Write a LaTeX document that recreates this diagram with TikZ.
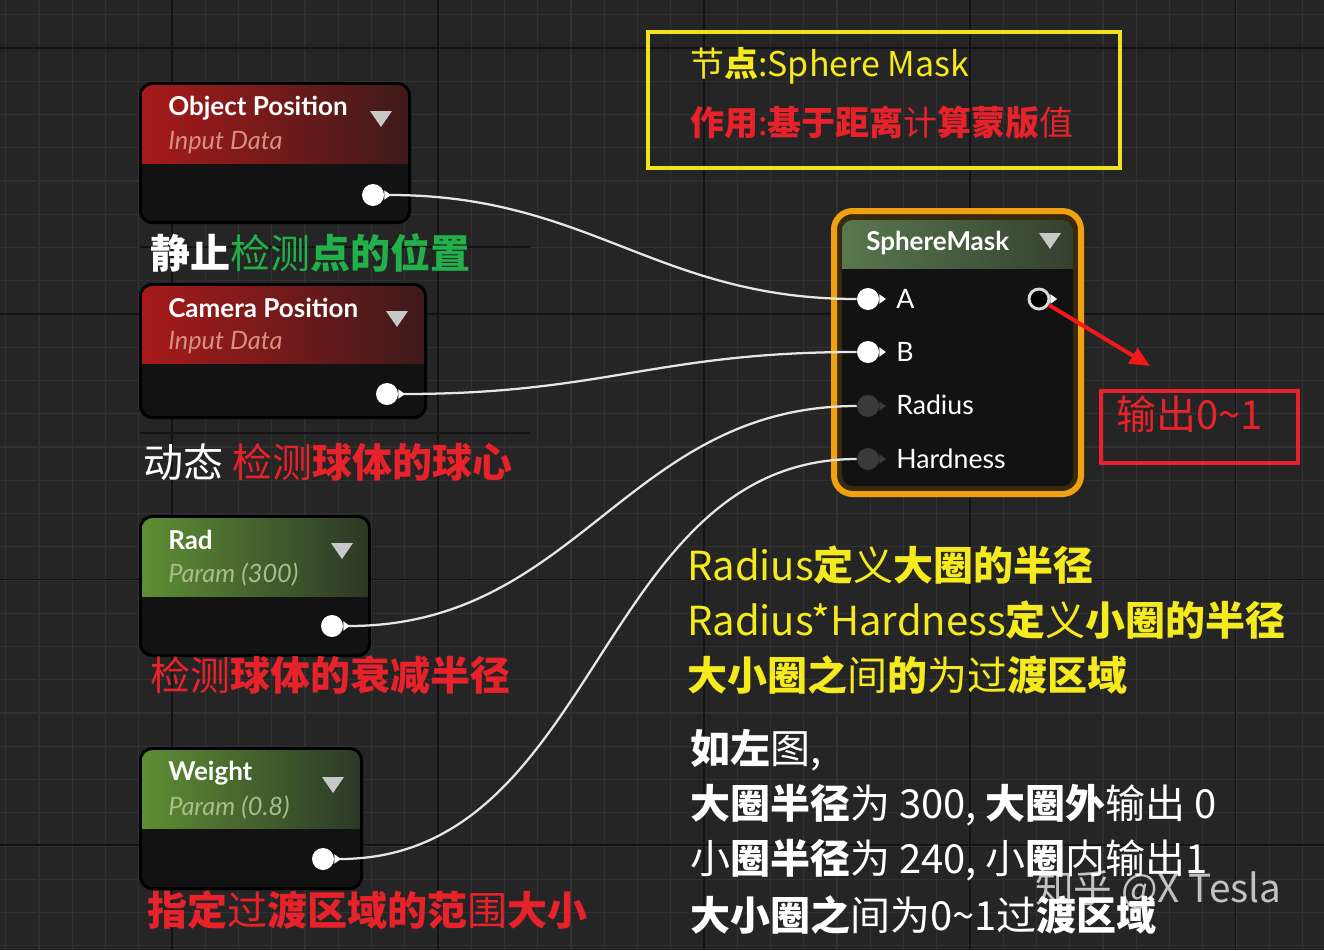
\documentclass[tikz,border=0pt]{standalone}
\usepackage{fontspec}
\setmainfont{Noto Sans}
\newfontfamily\cjk{Noto Sans CJK SC}
\newfontfamily\uef{Lato}
\usetikzlibrary{arrows.meta}
\definecolor{bgc}{HTML}{252525}
\definecolor{minorc}{HTML}{313131}
\definecolor{majorc}{HTML}{131313}
\definecolor{bodyc}{HTML}{121212}
\definecolor{redL}{HTML}{A81A1A}
\definecolor{redR}{HTML}{3E1A1A}
\definecolor{grnL}{HTML}{5E8E34}
\definecolor{grnR}{HTML}{2C3826}
\definecolor{smL}{HTML}{58784E}
\definecolor{smR}{HTML}{34402F}
\definecolor{subred}{HTML}{D8907E}
\definecolor{subgrn}{HTML}{A6BE8C}
\definecolor{tric}{HTML}{C8C8C8}
\definecolor{pingray}{HTML}{3A3A3A}
\definecolor{wirec}{HTML}{E6E6E6}
\definecolor{orng}{HTML}{F0A010}
\definecolor{orngdark}{HTML}{3A2A0C}
\definecolor{txtred}{HTML}{E8222A}
\definecolor{txtgrn}{HTML}{22B04A}
\definecolor{txtyel}{HTML}{F5EA1E}
\definecolor{boxyel}{HTML}{F0E31C}
\definecolor{arrred}{HTML}{F01818}
\newcommand\bd[1]{{\bfseries #1}}
\newcommand\pintip[2]{\fill[#2] ([yshift=3.6pt]#1.east) -- ([xshift=5pt]#1.east) -- ([yshift=-3.6pt]#1.east) -- cycle;}
\newcommand\uebox[7]{%
  \fill[black,rounded corners=10] (#1-3,#2-3) rectangle (#3+3,#4+3);
  \fill[bodyc,rounded corners=8] (#1,#2) rectangle (#3,#4);
  \begin{scope}
    \clip[rounded corners=8] (#1,#2) rectangle (#3,#4);
    \shade[left color=#6,right color=#7] (#1,#2) rectangle (#3,#5);
  \end{scope}}
\begin{document}
\begin{tikzpicture}[x=0.75pt,y=-0.75pt,
  lbl/.style={anchor=west,inner sep=0pt,font=\cjk\fontsize{30pt}{36pt}\selectfont},
  ttl/.style={anchor=west,inner sep=0pt,text=white,font=\uef\bfseries\fontsize{19.5pt}{22pt}\selectfont},
  sub/.style={anchor=west,inner sep=0pt,font=\uef\itshape\fontsize{19pt}{22pt}\selectfont},
  pinlbl/.style={anchor=west,inner sep=0pt,text=white,font=\uef\fontsize{20pt}{23pt}\selectfont},
  pinw/.style={circle,fill=white,minimum size=16.5pt,inner sep=0pt},
  ping/.style={circle,fill=pingray,minimum size=16.5pt,inner sep=0pt},
  wire/.style={draw=wirec,line width=1.7pt},
  tri/.style={fill=tric},
  minorgrid/.style={draw=minorc,line width=0.8pt},
  majorgrid/.style={draw=majorc,line width=1.2pt}]
\useasboundingbox (0,0) rectangle (1324,950);
\fill[bgc] (0,0) rectangle (1324,950);
% grid
\foreach \i in {0,...,39} \draw[minorgrid] ({5.75+33.25*\i},0) -- ++(0,950);
\foreach \j in {0,...,28} \draw[minorgrid] (0,{14.75+33.25*\j}) -- ++(1324,0);
\foreach \i in {0,...,4} \draw[majorgrid] ({172+265.9*\i},0) -- ++(0,950);
\foreach \j in {0,...,3} \draw[majorgrid] (0,{48+265.7*\j}) -- ++(1324,0);
\draw[majorc,line width=1.2pt] (140,247) -- (530,247);
\draw[majorc,line width=1.2pt] (140,433) -- (530,433);

% ---- Object Position
\uebox{142}{85}{408}{221}{163}{redL}{redR}
\node[ttl] (t1) at (168,108) {Object Position};
\node[sub,text=subred] (s1) at (168,143) {Input Data};
\fill[tri] (370,111) -- (392,111) -- (381,127) -- cycle;
\node[pinw] (op) at (373,195) {};
\pintip{op}{white}

% ---- Camera Position
\uebox{142}{286}{424}{416}{363}{redL}{redR}
\node[ttl] (t2) at (168,308) {Camera Position};
\node[sub,text=subred] (s2) at (168,343) {Input Data};
\fill[tri] (386,311) -- (408,311) -- (397,327) -- cycle;
\node[pinw] (cp) at (387,394) {};
\pintip{cp}{white}

% ---- Rad
\uebox{142}{518}{368}{654}{596}{grnL}{grnR}
\node[ttl] (t3) at (168,540) {Rad};
\node[sub,text=subgrn] (s3) at (168,575) {Param (300)};
\fill[tri] (331,543) -- (353,543) -- (342,559) -- cycle;
\node[pinw] (rp) at (332,626) {};
\pintip{rp}{white}

% ---- Weight
\uebox{142}{750}{360}{887}{828}{grnL}{grnR}
\node[ttl] (t4) at (168,773) {Weight};
\node[sub,text=subgrn] (s4) at (168,808) {Param (0.8)};
\fill[tri] (322,777) -- (344,777) -- (333,793) -- cycle;
\node[pinw] (wp) at (323,859) {};
\pintip{wp}{white}

% ---- SphereMask
\fill[orngdark,rounded corners=14] (834,211) rectangle (1081,494);
\draw[orng,line width=4.5pt,rounded corners=14] (834,211) rectangle (1081,494);
\fill[bodyc,rounded corners=8] (842,220) rectangle (1073,486);
\begin{scope}
  \clip[rounded corners=8] (842,220) rectangle (1073,486);
  \shade[left color=smL,right color=smR] (842,220) rectangle (1073,268);
\end{scope}
\node[ttl] (t5) at (866,243) {SphereMask};
\fill[tri] (1039,233) -- (1061,233) -- (1050,249) -- cycle;
\node[pinw] (pa) at (868,299) {};
\pintip{pa}{white}
\node[pinw] (pb) at (868,352) {};
\pintip{pb}{white}
\node[ping] (pr) at (868,406) {};
\pintip{pr}{pingray}
\node[ping] (ph) at (868,459) {};
\pintip{ph}{pingray}
\node[pinlbl] (la) at (896,299) {A};
\node[pinlbl] (lb) at (896,352) {B};
\node[pinlbl] (lr) at (896,405) {Radius};
\node[pinlbl] (lh) at (896,459) {Hardness};
\node[circle,draw=white!85!black,line width=2.2pt,fill=black,minimum size=15pt,inner sep=0pt] (sout) at (1039,299) {};
\pintip{sout}{white}

% ---- wires
\draw[wire] ([xshift=4pt]op.east) .. controls +(200,0) and +(-200,0) .. (pa.west);
\draw[wire] ([xshift=4pt]cp.east) .. controls +(200,0) and +(-200,0) .. (pb.west);
\draw[wire] ([xshift=4pt]rp.east) .. controls +(230,0) and +(-230,0) .. (pr.west);
\draw[wire] ([xshift=4pt]wp.east) .. controls +(260,0) and +(-260,0) .. (ph.west);

% ---- output annotation
\coordinate (arrtip) at (1150,366);
\draw[arrred,line width=3pt,-{Triangle[length=15pt,width=13pt]}] (sout) -- (arrtip);
\draw[txtred,line width=2.3pt] (1101,391) rectangle (1298,463);
\node[lbl,text=txtred] (outtxt) at (1116,414) {输出0\textasciitilde1};

% ---- title box
\draw[boxyel,line width=2.3pt] (648,32) rectangle (1120,168);
\node[anchor=west,inner sep=0pt,text=txtyel,font=\cjk\fontsize{25.5pt}{29pt}\selectfont] (h1) at (690,66) {节\bd{点}:Sphere Mask};
\node[anchor=west,inner sep=0pt,text=txtred,font=\cjk\fontsize{25.5pt}{29pt}\selectfont] (h2) at (690,123) {\bd{作用}:\bd{基于距离}计\bd{算蒙版}值};

% ---- labels under nodes
\node[lbl] (l1) at (150,253) {\color{white}\bd{静止}\color{txtgrn}检测\bd{点的位置}};
\node[lbl] (l2) at (143,462) {\color{white}动态 \color{txtred}检测\bd{球体的球心}};
\node[lbl,text=txtred] (l3) at (150,675) {检测\bd{球体的衰减半径}};
\node[lbl,text=txtred] (l4) at (147,910) {\bd{指定}过\bd{渡区域的范}围\bd{大小}};

% ---- right explanation
\node[lbl,text=txtyel] (r1) at (687,565) {Radius\bd{定}义\bd{大圈的半径}};
\node[lbl,text=txtyel] (r2) at (687,620) {Radius*Hardness\bd{定}义\bd{小圈的半径}};
\node[lbl,text=txtyel] (r3) at (687,675) {\bd{大小圈之}间\bd{的}为过\bd{渡区域}};
\node[lbl,text=white] (w1) at (690,750) {\bd{如左}图,};
\node[lbl,text=white] (w2) at (690,805) {\bd{大圈半径}为 300, \bd{大圈外}输出 0};
\node[lbl,text=white] (w3) at (690,860) {小\bd{圈半径}为 240, 小\bd{圈}内输出1};
\node[lbl,text=white] (w4) at (690,915) {\bd{大小圈之}间为0\textasciitilde1过\bd{渡区域}};
\node[anchor=west,inner sep=0pt,text=white,opacity=0.72,font=\cjk\fontsize{29pt}{34pt}\selectfont] (wm) at (1035,890) {知乎 @X Tesla};
\end{tikzpicture}
\end{document}
